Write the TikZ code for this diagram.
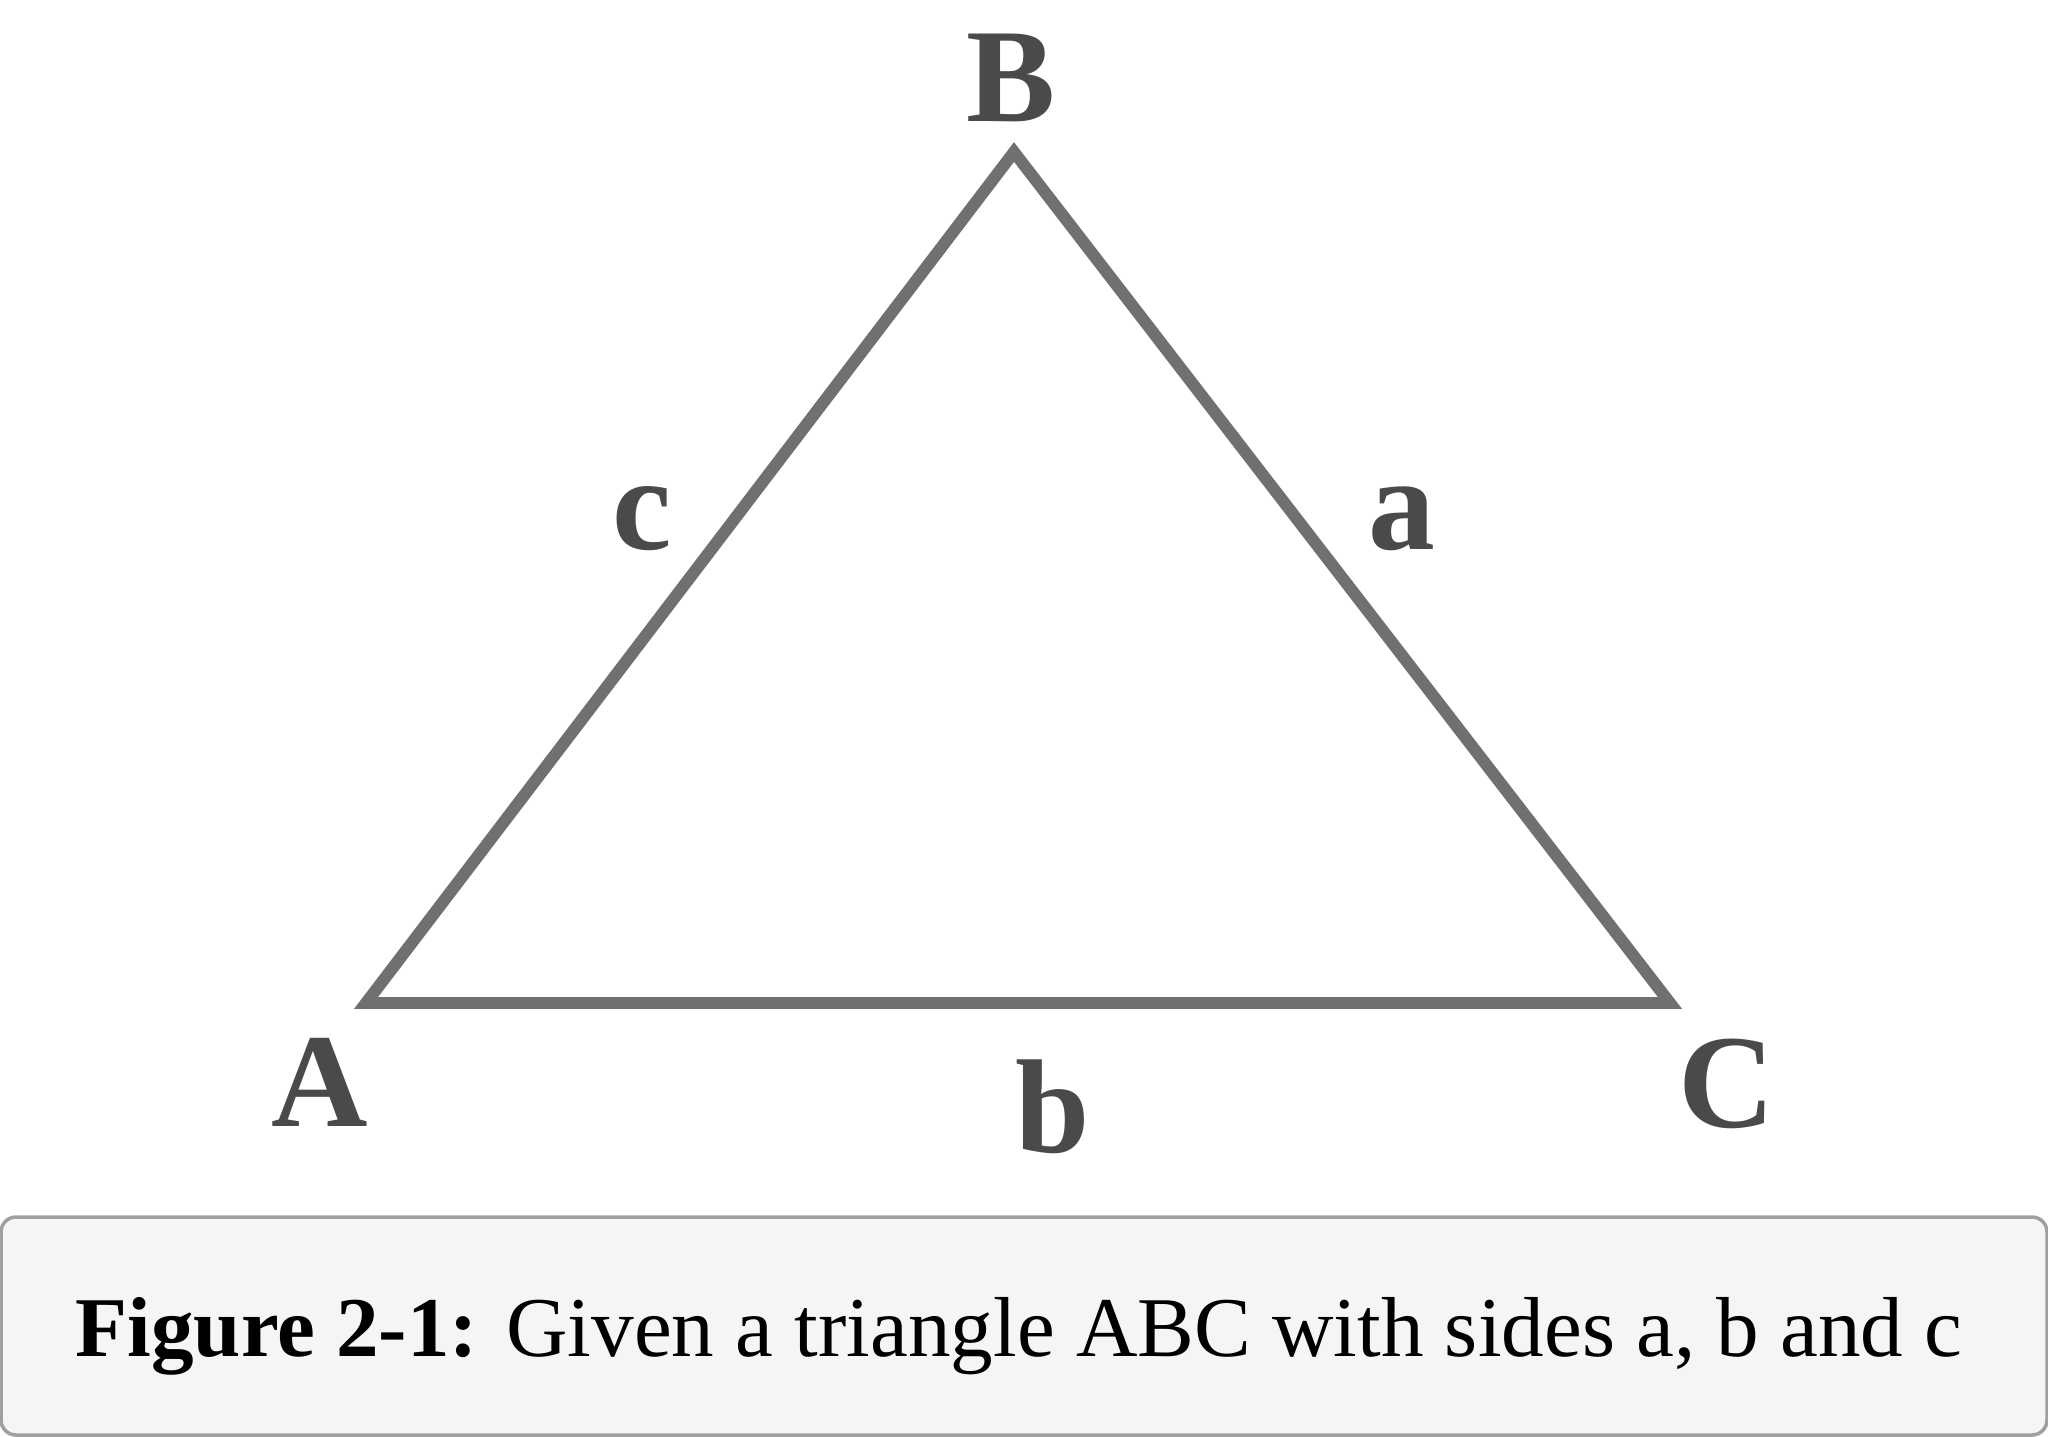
\documentclass[tikz,border=0pt]{standalone}
\usepackage{fontspec}
\setmainfont{Liberation Serif}
\definecolor{edgegray}{HTML}{707070}
\definecolor{labelgray}{HTML}{4A4A4A}
\definecolor{boxgray}{HTML}{A0A0A0}
\definecolor{boxfill}{HTML}{F5F5F5}

\begin{document}
\begin{tikzpicture}[x=0.01cm,y=-0.01cm]
\tikzset{vlabel/.style={font=\fontsize{38}{40}\selectfont\bfseries,text=labelgray,inner sep=0pt,anchor=base}}
\tikzset{captext/.style={font=\fontsize{24.2}{26}\selectfont,text=black,inner sep=0pt,anchor=base}}
\useasboundingbox (0,0) rectangle (2048,1436);

\coordinate (A) at (366,1003);
\coordinate (B) at (1014,152);
\coordinate (C) at (1670,1003);
\draw[edgegray,line width=3.4pt,line join=miter] (A) -- (B) -- (C) -- cycle;

\node[vlabel] (labA) at (320,1126) {A};
\node[vlabel] (labB) at (1011,121) {B};
\node[vlabel] (labC) at (1727,1127) {C};
\node[vlabel] (laba) at (1402,549) {a};
\node[vlabel] (labb) at (1053,1152) {b};
\node[vlabel] (labc) at (642,549) {c};

\draw[boxgray,fill=boxfill,line width=1pt,rounded corners=0.15cm] (1,1217) rectangle (2047,1435);
\node[captext] (cap) at (1019,1356) {\textbf{Figure 2-1:} Given a triangle ABC with sides a, b and c};
\end{tikzpicture}
\end{document}
